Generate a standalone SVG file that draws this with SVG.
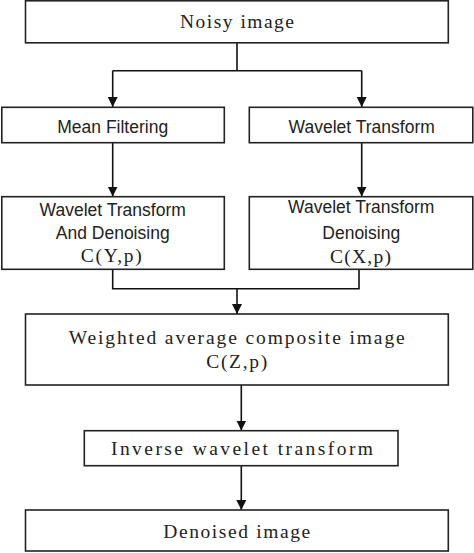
<svg xmlns="http://www.w3.org/2000/svg" width="474" height="553" viewBox="0 0 474 553">
<defs>
<marker id="arr" markerWidth="11" markerHeight="11" refX="10" refY="5.5" orient="auto" markerUnits="userSpaceOnUse" viewBox="0 0 11 11">
<path d="M0,0.5 L10,5.5 L0,10.5 Z" fill="#111"/>
</marker>
</defs>
<style>
.box{fill:#fff;stroke:#222;stroke-width:1.6}
.mono{font-family:"Liberation Serif","Times New Roman",serif;font-size:19.5px;fill:#222;text-anchor:middle}
.sans{font-family:"Liberation Sans",Arial,sans-serif;font-size:17.5px;fill:#222;text-anchor:middle}
.ln{fill:none;stroke:#111;stroke-width:1.6}
</style>
<rect width="474" height="553" fill="#fff"/>
<g id="connectors">
<path class="ln" d="M237,43 V70.7 M112.7,70.7 H361.7"/>
<path class="ln" d="M112.7,70.7 V107" marker-end="url(#arr)"/>
<path class="ln" d="M361.7,70.7 V107" marker-end="url(#arr)"/>
<path class="ln" d="M112.7,142.7 V196.5" marker-end="url(#arr)"/>
<path class="ln" d="M361.7,142.7 V196.5" marker-end="url(#arr)"/>
<path class="ln" d="M112.7,269.3 V288.7 H359 V269.3"/>
<path class="ln" d="M237,288.7 V314" marker-end="url(#arr)"/>
<path class="ln" d="M241.3,385 V430.5" marker-end="url(#arr)"/>
<path class="ln" d="M241.3,465.7 V510" marker-end="url(#arr)"/>
</g>
<g id="noisy">
<rect class="box" x="25.5" y="0.8" width="422.8" height="42"/>
<text class="mono" x="237" y="28" textLength="114" lengthAdjust="spacing">Noisy image</text>
</g>
<g id="mean">
<rect class="box" x="1.8" y="107.3" width="222.5" height="35.4"/>
<text class="sans" x="112.7" y="132.7">Mean Filtering</text>
</g>
<g id="wavelet">
<rect class="box" x="249.3" y="107.3" width="223.5" height="35.4"/>
<text class="sans" x="361.7" y="132.7">Wavelet Transform</text>
</g>
<g id="wtd-left">
<rect class="box" x="1.8" y="196.7" width="222.5" height="72.6"/>
<text class="sans" x="112.7" y="216">Wavelet Transform</text>
<text class="sans" x="112.7" y="239.3">And Denoising</text>
<text class="mono" x="111.3" y="261.7" textLength="61" lengthAdjust="spacing">C(Y,p)</text>
</g>
<g id="wtd-right">
<rect class="box" x="249.3" y="196.7" width="223.5" height="72.6"/>
<text class="sans" x="361.2" y="213.3">Wavelet Transform</text>
<text class="sans" x="361.2" y="239">Denoising</text>
<text class="mono" x="360.5" y="263.3" textLength="61" lengthAdjust="spacing">C(X,p)</text>
</g>
<g id="weighted">
<rect class="box" x="25.5" y="314" width="422.8" height="71"/>
<text class="mono" x="236.7" y="344" textLength="336" lengthAdjust="spacing">Weighted average composite image</text>
<text class="mono" x="236.7" y="368" textLength="61" lengthAdjust="spacing">C(Z,p)</text>
</g>
<g id="inverse">
<rect class="box" x="84.3" y="430.7" width="313.7" height="35"/>
<text class="mono" x="242" y="455" textLength="262" lengthAdjust="spacing">Inverse wavelet transform</text>
</g>
<g id="denoised">
<rect class="box" x="25.5" y="510" width="422.8" height="41"/>
<text class="mono" x="236.7" y="537.7" textLength="147" lengthAdjust="spacing">Denoised image</text>
</g>
</svg>
